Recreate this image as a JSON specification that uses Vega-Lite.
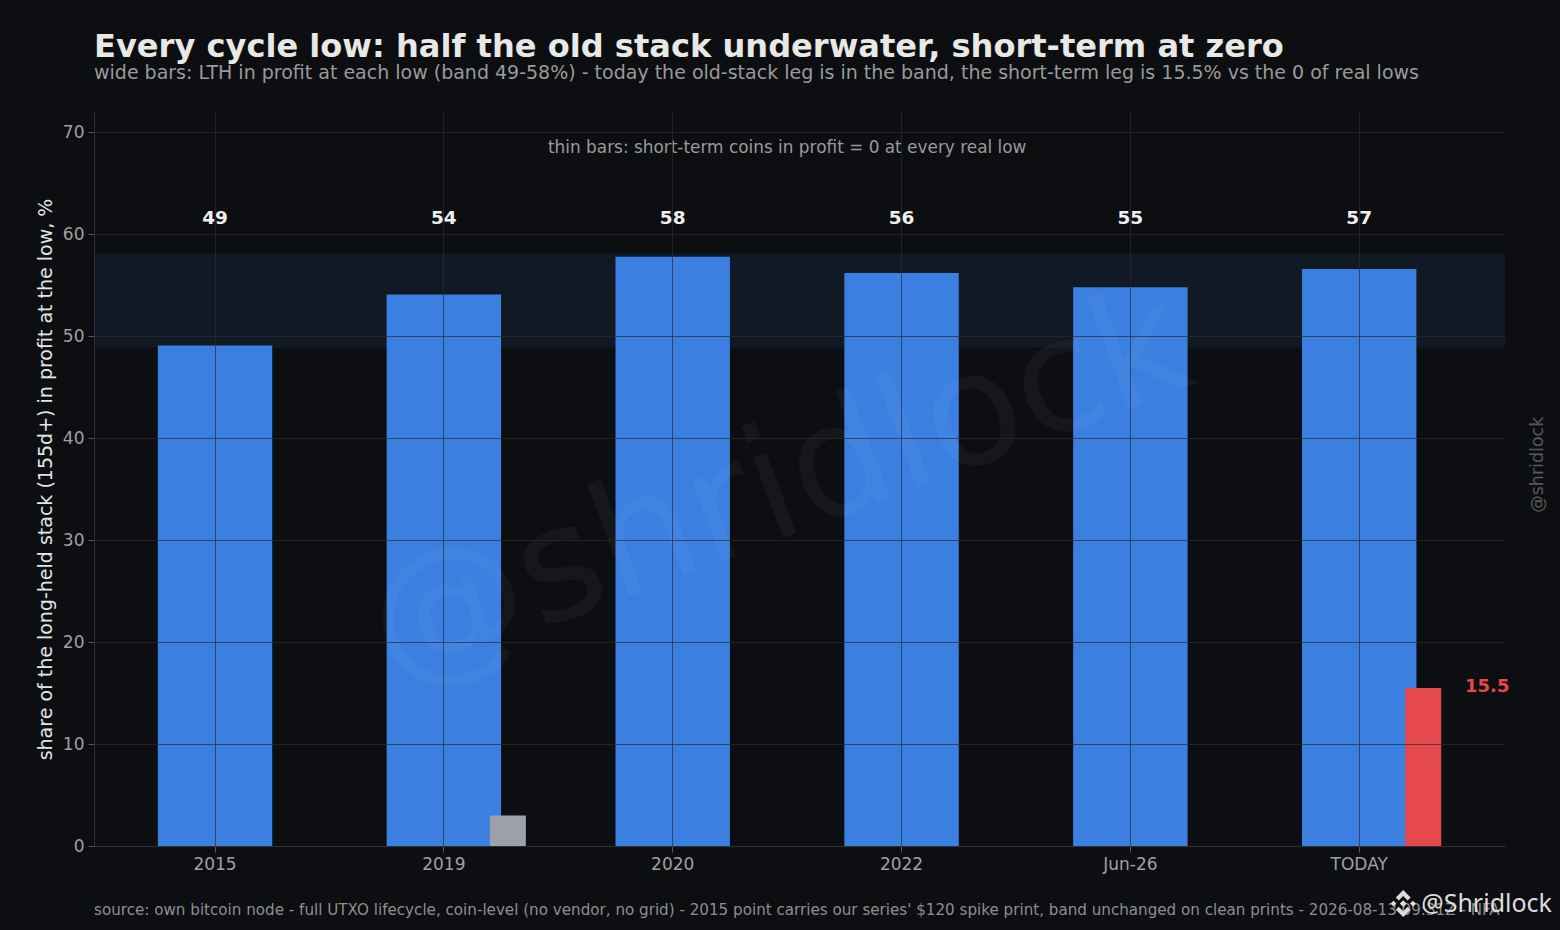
{
  "$schema": "https://vega.github.io/schema/vega-lite/v6.json",
  "width": 1411,
  "height": 734,
  "autosize": {"type": "none"},
  "padding": {"left": 94, "top": 112, "right": 55, "bottom": 84},
  "background": "#0c0e11",
  "title": {
    "text": "Every cycle low: half the old stack underwater, short-term at zero",
    "subtitle": "wide bars: LTH in profit at each low (band 49-58%) - today the old-stack leg is in the band, the short-term leg is 15.5% vs the 0 of real lows",
    "anchor": "start",
    "frame": "group",
    "offset": 28,
    "font": "DejaVu Sans",
    "fontSize": 32.1,
    "fontWeight": "bold",
    "color": "#e8e8e4",
    "subtitleFont": "DejaVu Sans",
    "subtitleFontSize": 19,
    "subtitleColor": "#9a9a9a",
    "subtitlePadding": 0
  },
  "config": {
    "view": {"stroke": null},
    "font": "DejaVu Sans",
    "axis": {
      "labelFont": "DejaVu Sans",
      "titleFont": "DejaVu Sans",
      "labelFontSize": 17,
      "labelColor": "#a0a0a0",
      "gridColor": "#2a2d31",
      "gridOpacity": 0.7,
      "gridWidth": 1,
      "domainColor": "#2e3135",
      "tickColor": "#55585c",
      "tickSize": 6,
      "labelPadding": 4
    }
  },
  "datasets": {
    "lows": [
      {"low": "2015", "lth": 49.1, "lth_label": "49", "short_term": 0, "leg": "clean"},
      {"low": "2019", "lth": 54.1, "lth_label": "54", "short_term": 3, "leg": "past"},
      {"low": "2020", "lth": 57.8, "lth_label": "58", "short_term": 0, "leg": "clean"},
      {"low": "2022", "lth": 56.2, "lth_label": "56", "short_term": 0, "leg": "clean"},
      {"low": "Jun-26", "lth": 54.8, "lth_label": "55", "short_term": 0, "leg": "clean"},
      {"low": "TODAY", "lth": 56.6, "lth_label": "57", "short_term": 15.5, "leg": "today"}
    ]
  },
  "data": {"name": "lows"},
  "encoding": {
    "x": {
      "field": "low",
      "type": "nominal",
      "sort": null,
      "scale": {
        "type": "band",
        "domain": ["2015", "2019", "2020", "2022", "Jun-26", "TODAY"],
        "paddingInner": 0,
        "paddingOuter": 0.083,
        "align": 0.174
      },
      "axis": {"labelAngle": 0, "title": null, "grid": true, "zindex": 1, "domain": true}
    },
    "y": {
      "type": "quantitative",
      "scale": {"domain": [0, 72], "nice": false},
      "axis": {
        "values": [0, 10, 20, 30, 40, 50, 60, 70],
        "title": "share of the long-held stack (155d+) in profit at the low, %",
        "titleColor": "#e4e4e4",
        "titleFontSize": 19,
        "titleFontWeight": "normal",
        "titlePadding": 7,
        "grid": true,
        "zindex": 1
      }
    }
  },
  "layer": [
    {
      "mark": {"type": "rect", "color": "#111924"},
      "data": {"values": [{"band_low": 48.9, "band_high": 58.1}]},
      "encoding": {
        "x": null,
        "y": {"field": "band_low", "type": "quantitative"},
        "y2": {"field": "band_high"}
      }
    },
    {
      "mark": {"type": "bar", "color": "#3b80e0", "width": {"band": 0.5}},
      "encoding": {"y": {"field": "lth", "type": "quantitative"}}
    },
    {
      "mark": {"type": "bar", "width": 36, "xOffset": 64},
      "encoding": {
        "y": {"field": "short_term", "type": "quantitative"},
        "color": {
          "field": "leg",
          "type": "nominal",
          "legend": null,
          "scale": {"domain": ["clean", "past", "today"], "range": ["#9ca0a8", "#9ca0a8", "#e5484d"]}
        }
      }
    },
    {
      "mark": {"type": "text", "font": "DejaVu Sans", "fontWeight": "bold", "fontSize": 18.5, "color": "#efefef", "baseline": "middle"},
      "encoding": {
        "y": {"datum": 61.6},
        "text": {"field": "lth_label"}
      }
    },
    {
      "transform": [{"filter": "datum.leg === 'today'"}],
      "mark": {"type": "text", "font": "DejaVu Sans", "fontWeight": "bold", "fontSize": 18, "color": "#e5484d", "baseline": "middle", "xOffset": 128},
      "encoding": {
        "y": {"datum": 15.6},
        "text": {"field": "short_term", "format": ".1f"}
      }
    },
    {
      "data": {"values": [{"low": "2020", "note": "thin bars: short-term coins in profit = 0 at every real low"}]},
      "mark": {"type": "text", "font": "DejaVu Sans", "fontSize": 16.9, "color": "#9a9a9a", "baseline": "middle", "xOffset": 114.5},
      "encoding": {
        "y": {"datum": 68.45},
        "text": {"field": "note"}
      }
    },
    {
      "data": {"values": [{"low": "2020", "mark_text": "@shridlock"}]},
      "mark": {"type": "text", "font": "DejaVu Sans", "fontSize": 157, "color": "#ffffff", "opacity": 0.035, "angle": -20.5, "baseline": "middle", "xOffset": 107},
      "encoding": {
        "y": {"datum": 35},
        "text": {"field": "mark_text"}
      }
    },
    {
      "data": {"values": [{"low": "TODAY", "mark_text": "@shridlock"}]},
      "mark": {"type": "text", "font": "DejaVu Sans", "fontSize": 17.5, "color": "#ffffff", "opacity": 0.3, "angle": -90, "baseline": "middle", "xOffset": 179},
      "encoding": {
        "y": {"datum": 37.4},
        "text": {"field": "mark_text"}
      }
    },
    {
      "data": {"values": [{"low": "2015", "source": "source: own bitcoin node - full UTXO lifecycle, coin-level (no vendor, no grid) - 2015 point carries our series' $120 spike print, band unchanged on clean prints - 2026-08-13 09:31Z - NFA"}]},
      "mark": {"type": "text", "font": "DejaVu Sans", "fontSize": 15.15, "color": "#8f8f8f", "align": "left", "baseline": "middle", "xOffset": -121},
      "encoding": {
        "y": {"datum": -6.27},
        "text": {"field": "source"}
      }
    },
    {
      "data": {"values": [{"low": "TODAY", "logo_text": "@Shridlock"}]},
      "mark": {"type": "text", "font": "Noto Sans", "fontSize": 25, "color": "#dcdcdc", "align": "left", "baseline": "middle", "xOffset": 62},
      "encoding": {
        "y": {"datum": -5.65},
        "text": {"field": "logo_text"}
      }
    },
    {
      "data": {"values": [{"low": "TODAY"}]},
      "mark": {
        "type": "point",
        "filled": true,
        "opacity": 1,
        "color": "#dcdcdc",
        "size": 729,
        "xOffset": 44,
        "shape": "M0,-0.25L0.25,0L0,0.25L-0.25,0ZM-0.72,-0.22L-0.5,0L-0.72,0.22L-0.94,0ZM0.72,-0.22L0.94,0L0.72,0.22L0.5,0ZM0,-1L0.55,-0.45L0.33,-0.23L0,-0.56L-0.33,-0.23L-0.55,-0.45ZM0,1L0.55,0.45L0.33,0.23L0,0.56L-0.33,0.23L-0.55,0.45Z"
      },
      "encoding": {"y": {"datum": -5.65}}
    }
  ]
}
